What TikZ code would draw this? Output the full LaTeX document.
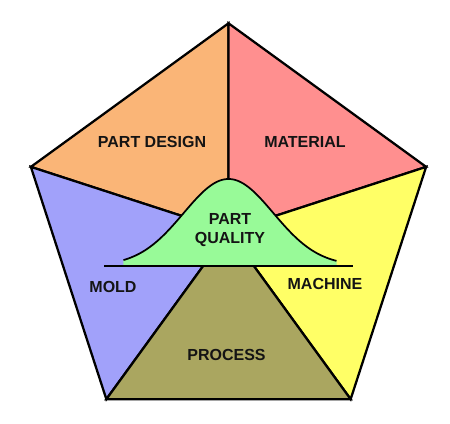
\documentclass[tikz,border=0pt]{standalone}
\usepackage{fontspec}
\setmainfont{Liberation Sans}
\usepackage{tikz}
\usetikzlibrary{calc}
\definecolor{naranja}{RGB}{250,181,119}
\definecolor{rosa}{RGB}{255,143,143}
\definecolor{azul}{RGB}{161,161,250}
\definecolor{amarillo}{RGB}{255,255,102}
\definecolor{verde}{RGB}{152,250,152}
\definecolor{oliva}{RGB}{170,166,96}
\tikzset{
	every node/.style={
		font=\fontsize{12}{14.3}\selectfont\bfseries,
		text=black!92
	},
	sector/.style={
		draw=black,
		line width=1.7pt,
		line join=miter
	},
	campana/.style={
		draw=black,
		line width=1.3pt
	},
	etiqueta/.style={
		inner sep=0pt,
		align=center
	}
}

\begin{document}
\begin{tikzpicture}[x=0.75pt,y=0.75pt]
	\useasboundingbox (-228.5,-192.9) rectangle (221.5,231.1);
	
	\coordinate (O) at (0,0);
	\foreach \nombre/\ang in {top/90, ul/162, ll/234, lr/306, ur/18}
		\coordinate (\nombre) at (\ang:207.8);
	
	% sectores del pentagono
	\filldraw[sector, fill=naranja]  (O) -- (top) -- (ul) -- cycle;
	\filldraw[sector, fill=rosa]     (O) -- (ur) -- (top) -- cycle;
	\filldraw[sector, fill=azul]     (O) -- (ul) -- (ll) -- cycle;
	\filldraw[sector, fill=amarillo] (O) -- (lr) -- (ur) -- cycle;
	\filldraw[sector, fill=oliva]    (O) -- (ll) -- (lr) -- cycle;
	
	% campana
	\fill[verde] plot[domain=-105:108, samples=90, smooth]
		(\x, {-34.6 + 86.7*exp(-0.5*(\x/44.9)^2)}) -- (108,-34.6) -- (-105,-34.6) -- cycle;
	\draw[campana] plot[domain=-105:108, samples=90, smooth]
		(\x, {-34.6 + 86.7*exp(-0.5*(\x/44.9)^2)});
	\coordinate (bl) at (-124.2,-34.6);
	\coordinate (br) at (124.8,-34.6);
	\draw[line width=1.6pt] (bl) -- (br);
	
	\node[etiqueta] (diseno)   at (-76.5,89.1)   {PART DESIGN};
	\node[etiqueta] (material) at (76.5,89.1)    {MATERIAL};
	\node[etiqueta] (molde)    at (-115.5,-55.9) {MOLD};
	\node[etiqueta] (maquina)  at (96.5,-52.9)   {MACHINE};
	\node[etiqueta] (proceso)  at (-2,-123.9)    {PROCESS};
	\node[etiqueta] (calidad)  at (1.5,0.6)      {PART\\QUALITY};
\end{tikzpicture}
\end{document}
